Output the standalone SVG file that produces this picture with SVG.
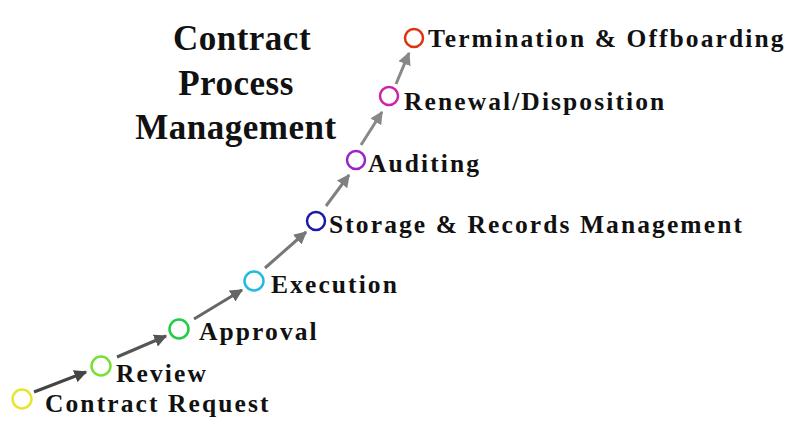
<svg xmlns="http://www.w3.org/2000/svg" width="800" height="440" viewBox="0 0 800 440">
<defs>
<marker id="ah" viewBox="0 0 10 10" refX="9" refY="5" markerWidth="4.3" markerHeight="4.3" orient="auto" markerUnits="strokeWidth">
<path d="M0,0 L10,5 L0,10 z" fill="context-stroke"/>
</marker>
<style>
.t{font-family:"Liberation Serif","Times New Roman",serif;font-weight:bold;fill:#111;}
.lbl{font-size:25.5px;letter-spacing:2.1px;}
.ttl{font-size:35px;text-anchor:middle;letter-spacing:0.5px;}
.c{fill:none;stroke-width:2.5;}
.a{stroke-width:3;fill:none;marker-end:url(#ah);}
</style>
</defs>
<rect width="800" height="440" fill="#fff"/>
<g id="title">
<text class="t ttl" x="242" y="50">Contract</text>
<text class="t ttl" x="236" y="95">Process</text>
<text class="t ttl" x="236" y="139">Management</text>
</g>
<g id="connectors">
<line class="a" stroke="#444" x1="34" y1="392" x2="86" y2="372"/>
<line class="a" stroke="#555" x1="117" y1="357" x2="166" y2="336"/>
<line class="a" stroke="#666" x1="194" y1="319" x2="242" y2="290"/>
<line class="a" stroke="#777" x1="265" y1="268" x2="306" y2="232"/>
<line class="a" stroke="#808080" x1="326" y1="206" x2="349" y2="175"/>
<line class="a" stroke="#888" x1="361" y1="145" x2="382" y2="112"/>
<line class="a" stroke="#888" x1="396" y1="84" x2="409" y2="53"/>
</g>
<g id="n1"><circle class="c" stroke="#e6e632" cx="22" cy="399" r="9.5"/><text class="t lbl" x="45" y="412">Contract Request</text></g>
<g id="n2"><circle class="c" stroke="#77e033" cx="101" cy="366" r="9.5"/><text class="t lbl" x="116" y="382">Review</text></g>
<g id="n3"><circle class="c" stroke="#22cc44" cx="179" cy="329" r="9.5"/><text class="t lbl" x="199" y="340">Approval</text></g>
<g id="n4"><circle class="c" stroke="#22bbdd" cx="254" cy="281" r="9.5"/><text class="t lbl" x="271" y="293">Execution</text></g>
<g id="n5"><circle class="c" stroke="#1a1aaa" cx="316" cy="221" r="9"/><text class="t lbl" x="329" y="233">Storage &amp; Records Management</text></g>
<g id="n6"><circle class="c" stroke="#9922cc" cx="356" cy="160" r="9"/><text class="t lbl" x="368" y="172">Auditing</text></g>
<g id="n7"><circle class="c" stroke="#cc22aa" cx="389" cy="96" r="9"/><text class="t lbl" x="404" y="110">Renewal/Disposition</text></g>
<g id="n8"><circle class="c" stroke="#dd3311" cx="414" cy="38" r="9"/><text class="t lbl" x="428" y="47">Termination &amp; Offboarding</text></g>
</svg>
